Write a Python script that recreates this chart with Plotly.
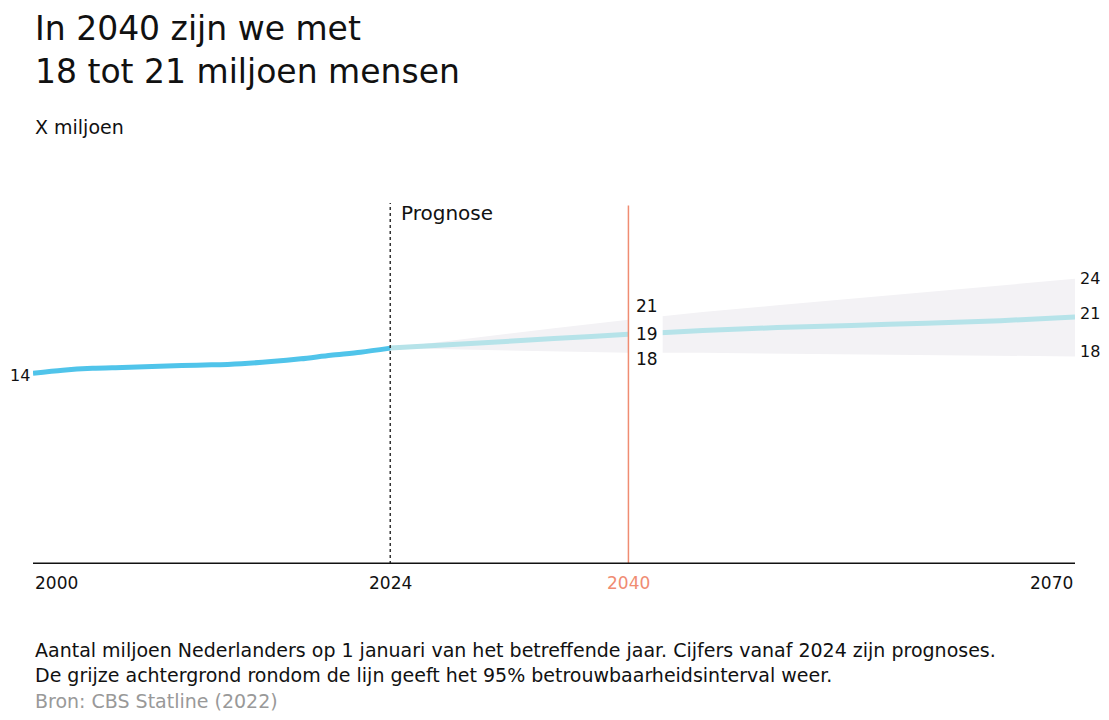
import plotly.graph_objs as go

# Bevolking Nederland (x miljoen), 1 januari
hist_years = [2000, 2002, 2004, 2006, 2008, 2010, 2012, 2014, 2016, 2018, 2020, 2022, 2024]
hist_values = [15.86, 16.11, 16.26, 16.33, 16.41, 16.50, 16.55, 16.65, 16.82, 17.05, 17.35, 17.60, 17.94]

prog_years = [2024, 2030, 2035, 2040, 2045, 2050, 2055, 2060, 2065, 2070]
prog_values = [17.94, 18.37, 18.73, 19.09, 19.40, 19.65, 19.83, 20.00, 20.22, 20.52]
prog_upper = [17.94, 18.85, 19.60, 20.30, 20.95, 21.50, 22.05, 22.60, 23.15, 23.70]
prog_lower = [17.94, 17.80, 17.65, 17.55, 17.55, 17.50, 17.45, 17.40, 17.30, 17.25]

labels_2040 = ['21', '19', '18']
labels_2070 = ['24', '21', '18']
label_2000 = '14'

FONT = 'DejaVu Sans'
BLUE = '#50c4ea'
LIGHT = '#b6e3e9'
BAND = '#f3f2f5'
ORANGE = '#f08c72'
INK = '#111111'

fig = go.Figure()

# betrouwbaarheidsinterval
fig.add_trace(go.Scatter(x=prog_years, y=prog_upper, mode='lines',
                         line=dict(width=0, color=BAND), hoverinfo='skip', showlegend=False))
fig.add_trace(go.Scatter(x=prog_years, y=prog_lower, mode='lines', fill='tonexty',
                         fillcolor=BAND, line=dict(width=0, color=BAND),
                         hoverinfo='skip', showlegend=False))

fig.add_trace(go.Scatter(x=prog_years, y=prog_values, mode='lines',
                         line=dict(color=LIGHT, width=5, shape='spline', smoothing=0.4),
                         showlegend=False))
fig.add_trace(go.Scatter(x=hist_years, y=hist_values, mode='lines',
                         line=dict(color=BLUE, width=5, shape='spline', smoothing=0.8),
                         showlegend=False))

# witte uitsparing achter de labels bij 2040
fig.add_shape(type='rect', xref='x', yref='y', x0=2040, x1=2042.3, y0=16.5, y1=21.5,
              fillcolor='white', line=dict(width=0), layer='above')
fig.add_shape(type='line', xref='x', yref='y', x0=2040, x1=2040, y0=0, y1=29.8,
              line=dict(color=ORANGE, width=1.5), layer='above')
fig.add_shape(type='line', xref='x', yref='y', x0=2024, x1=2024, y0=0, y1=30,
              line=dict(color='#333333', width=1.5, dash='dot'), layer='above')
fig.add_shape(type='line', xref='x', yref='y', x0=2000, x1=2070, y0=0, y1=0,
              line=dict(color=INK, width=3), layer='above')

ann = []
txt = dict(family=FONT, size=17, color=INK)
ann.append(dict(x=2024, y=29.2, text='Prognose', xanchor='left', yanchor='middle',
                xshift=9, showarrow=False, font=dict(family=FONT, size=20, color=INK)))
for lab, yv in zip(labels_2040, [21.4, 19.1, 17.0]):
    ann.append(dict(x=2040, y=yv, text=lab, xanchor='left', yanchor='middle',
                    xshift=6, showarrow=False, font=txt))
for lab, yv in zip(labels_2070, [23.7, 20.8, 17.7]):
    ann.append(dict(x=2070, y=yv, text=lab, xanchor='left', yanchor='middle',
                    xshift=3, showarrow=False, font=dict(family=FONT, size=16, color=INK)))
ann.append(dict(xref='paper', x=0, y=15.7, text=label_2000, xanchor='left', yanchor='middle',
                xshift=-25, showarrow=False, font=dict(family=FONT, size=16, color=INK)))

# jaartallen onder de as
for yr, anchor, col in [(2000, 'left', INK), (2024, 'center', INK),
                        (2040, 'center', ORANGE), (2070, 'right', INK)]:
    ann.append(dict(x=yr, y=0, text=str(yr), xanchor=anchor, yanchor='top', yshift=-7,
                    showarrow=False, font=dict(family=FONT, size=17, color=col)))

# titel, eenheid en voetnoot
ann.append(dict(xref='paper', yref='paper', x=0, y=1, yshift=196, xanchor='left', yanchor='top',
                text='In 2040 zijn we met<br>18 tot 21 miljoen mensen', align='left',
                showarrow=False, font=dict(family=FONT, size=33, color=INK)))
ann.append(dict(xref='paper', yref='paper', x=0, y=1, yshift=76, xanchor='left', yanchor='middle',
                text='X miljoen', showarrow=False, font=dict(family=FONT, size=19, color=INK)))
notes = ['Aantal miljoen Nederlanders op 1 januari van het betreffende jaar. '
         'Cijfers vanaf 2024 zijn prognoses.',
         'De grijze achtergrond rondom de lijn geeft het 95% betrouwbaarheidsinterval weer.',
         'Bron: CBS Statline (2022)']
for note, shift, col in zip(notes, [-86, -111, -137], [INK, INK, '#999999']):
    ann.append(dict(xref='paper', yref='paper', x=0, y=0, yshift=shift, xanchor='left',
                    yanchor='middle', text=note, showarrow=False,
                    font=dict(family=FONT, size=19, color=col)))

# de pagina zet de figuur 8px van de rand, daarom 1093x704
fig.update_layout(
    width=1093, height=704,
    margin=dict(l=25, r=26, t=195, b=148),
    plot_bgcolor='white', paper_bgcolor='white',
    xaxis=dict(range=[2000, 2070], showgrid=False, zeroline=False, showticklabels=False,
               showline=False, fixedrange=True),
    yaxis=dict(range=[0, 30], showgrid=False, zeroline=False, showticklabels=False,
               showline=False, fixedrange=True),
    annotations=ann,
    font=dict(family=FONT),
)

fig.write_html("out.html")
